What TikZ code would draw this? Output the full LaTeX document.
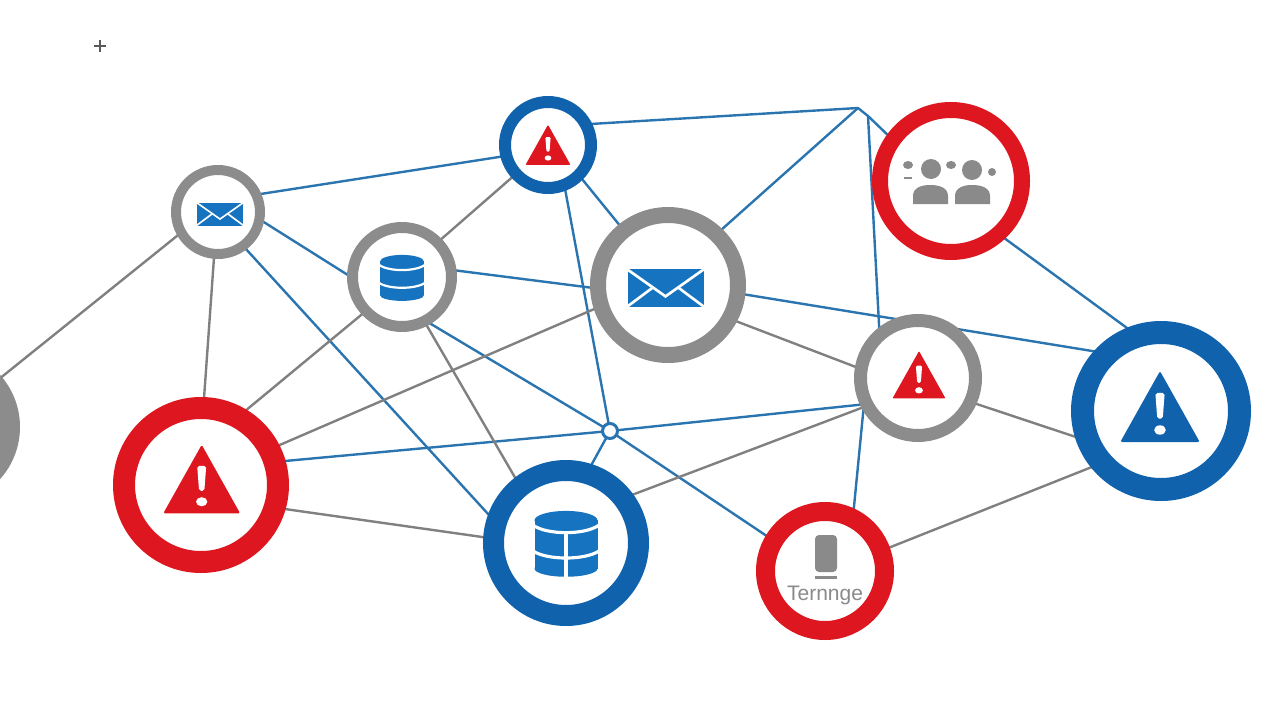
\documentclass[tikz,border=0pt]{standalone}
\usepackage{fontspec}
\setmainfont{Liberation Sans}
\usetikzlibrary{backgrounds}
\definecolor{ringblue}{HTML}{0F62AB}
\definecolor{iconblue}{HTML}{1573C0}
\definecolor{ringred}{HTML}{DD1620}
\definecolor{ringgray}{HTML}{8C8C8C}
\definecolor{linkblue}{HTML}{2A74B0}
\definecolor{linkgray}{HTML}{808080}
\definecolor{icongray}{HTML}{8A8A8A}
\definecolor{plusgray}{HTML}{5A5A5A}
\tikzset{
  ring/.style n args={3}{circle,draw=#1,fill=white,inner sep=0pt,line width=#3pt,minimum size={2*#2pt-#3pt},outer sep={.5*#3pt-1pt}},
  bluelink/.style={draw=linkblue,line width=2.4pt,line cap=round},
  graylink/.style={draw=linkgray,line width=2.4pt},
}
% glyphs: x, y, half width, colour
\newcommand{\alertmark}[4]{%
  \begin{scope}[shift={(#1,#2)},x=#3pt,y=-#3pt]
    \fill[#4,rounded corners=.04*#3pt] (0,-.92) -- (1.02,.9) -- (-1.02,.9) -- cycle;
    \fill[white,rounded corners=.05*#3pt] (-.12,-.36) -- (.12,-.36) -- (.07,.3) -- (-.07,.3) -- cycle;
    \fill[white] (0,.59) ellipse (.15 and .12);
  \end{scope}}
\newcommand{\mailmark}[3]{%
  \begin{scope}[shift={(#1,#2)},x=#3pt,y=-#3pt]
    \fill[iconblue] (-1,-.5) rectangle (1,.5);
    \draw[white,line width=.07*#3pt] (-1.02,-.5) -- (0,.22) -- (1.02,-.5);
    \draw[white,line width=.07*#3pt] (-1.02,.5) -- (-.35,0) (1.02,.5) -- (.35,0);
  \end{scope}}
\newcommand{\dbmark}[3]{%
  \begin{scope}[shift={(#1,#2)},x=#3pt,y=-#3pt]
    \fill[iconblue] (-1,-.75) rectangle (1,.78);
    \fill[iconblue] (0,-.75) ellipse (1 and .3);
    \fill[iconblue] (0,.78) ellipse (1 and .26);
    \draw[white,line width=.1*#3pt] (-1.05,-.6) .. controls (-.6,-.28) and (.6,-.28) .. (1.05,-.6);
    \draw[white,line width=.1*#3pt] (-1.05,.22) .. controls (-.6,.52) and (.6,.52) .. (1.05,.22);
  \end{scope}}
\begin{document}
\begin{tikzpicture}[x=1pt,y=-1pt]
  \useasboundingbox (0,0) rectangle (1280,720);
  \begin{scope}
    \clip (0,0) rectangle (1280,720);
    \node[ring={ringgray}{78}{22}] (farleft) at (-58,427) {};
  \end{scope}
  \node[ring={ringgray}{47}{10}] (mailA) at (218,212) {};
  \node[ring={ringblue}{49}{12}] (alertA) at (548,145) {};
  \node[ring={ringgray}{55}{11}] (dbA) at (402,277) {};
  \node[ring={ringgray}{78}{16}] (mailB) at (668,285) {};
  \node[ring={ringred}{79}{16}] (people) at (951,181) {};
  \node[ring={ringgray}{64}{13}] (alertB) at (918,378) {};
  \node[ring={ringblue}{90}{23}] (alertC) at (1161,411) {};
  \node[ring={ringred}{88}{22}] (alertD) at (201,485) {};
  \node[ring={ringblue}{83}{21}] (dbB) at (566,543) {};
  \node[ring={ringred}{69}{19}] (phone) at (825,571) {};
  \node[ring={linkblue}{9}{3}] (hub) at (610,431) {};
  \coordinate (corner) at (858,108);
  \coordinate (bend) at (868,116);
  %%% links
  \begin{scope}[on background layer]
    \foreach \a/\b in {mailA.23/alertA.194, alertA.26/corner, corner/mailB.46, corner/bend,
      bend/people.144, bend/alertB.128, alertB.210/phone.65, people.313/alertC.112,
      mailB.353/alertC.138, alertA.315/mailB.129, alertA.291/hub, mailA.348/dbA.178,
      mailA.307/dbB.160, dbA.7/mailB.182, dbA.301/hub, hub/phone.149, alertD.16/hub,
      hub/alertB.205, hub/dbB.72}
    \draw[bluelink] (\a) -- (\b);
    \foreach \a/\b in {farleft.40/mailA.210, mailA.265/alertD.88, alertA.222/dbA.44,
      dbA.223/alertD.59, mailB.198/alertD.27, dbA.297/dbB.128, alertD.344/dbB.176,
      dbB.36/alertB.208, mailB.332/alertB.170, alertB.336/alertC.197, phone.20/alertC.219}
    \draw[graylink] (\a) -- (\b);
  \end{scope}
  %%% icons
  \alertmark{548}{145}{22}{ringred}
  \alertmark{919}{375}{26}{ringred}
  \alertmark{201.7}{479.5}{37.7}{ringred}
  \alertmark{1160}{407}{39}{ringblue}
  \mailmark{220}{214}{23}
  \mailmark{665.5}{288}{38}
  \dbmark{402}{278}{22}
  \dbmark{566}{544}{31.5}
  \draw[white,line width=4pt] (566,532) -- (566,580);
  % people
  \fill[icongray] (931,169) circle (10) (972,170) circle (10) (992,172) circle (4);
  \fill[icongray] (908,165) ellipse (5 and 4) (951,165) ellipse (5 and 4);
  \fill[icongray] (904,177) rectangle (912,179);
  \foreach \sx in {913,955}
  \fill[icongray] (\sx,204) -- (\sx,196) .. controls (\sx,188) and (\sx+8,185) .. (\sx+17,185)
    .. controls (\sx+27,185) and (\sx+35,188) .. (\sx+35,196) -- (\sx+35,204) -- cycle;
  % phone
  \fill[icongray,rounded corners=4pt] (815,572) -- (815,535) -- (837,535) -- (837,572) -- cycle;
  \fill[icongray] (815,576) rectangle (837,579);
  \node[text=icongray,font=\fontsize{21}{24}\selectfont,inner sep=0pt] (phonetext) at (825,595) {Ternnge};
  % plus mark
  \draw[line width=2.5pt,color=plusgray] (94,46) -- (106,46) (100,40) -- (100,52);
\end{tikzpicture}
\end{document}
